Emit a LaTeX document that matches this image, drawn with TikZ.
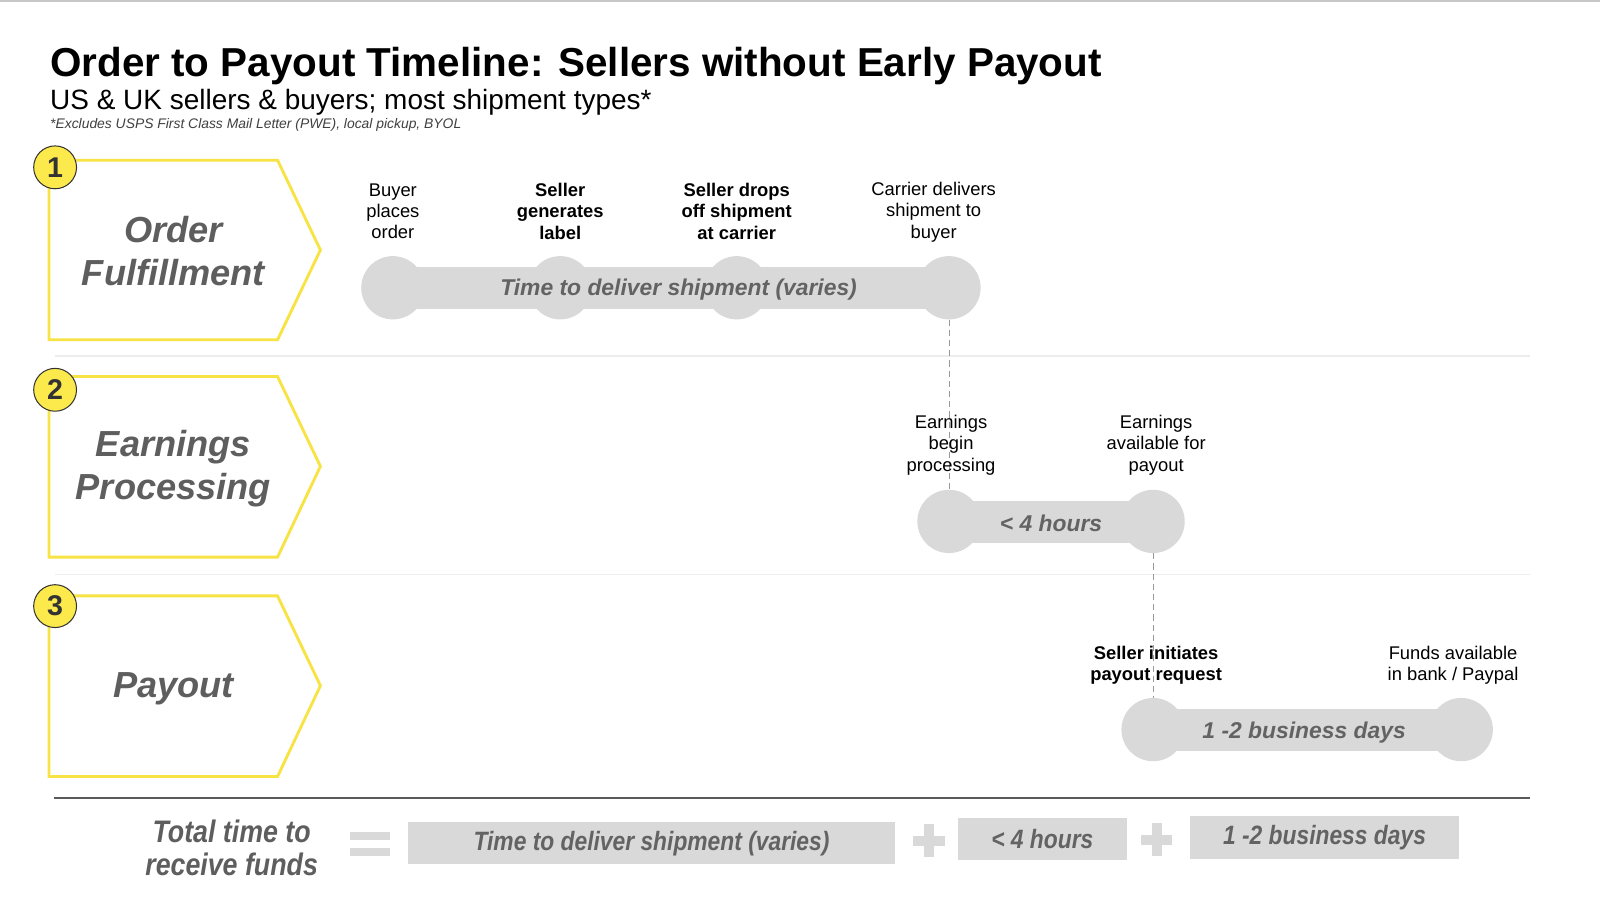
\documentclass[tikz,border=0pt]{standalone}
\usepackage{fontspec}
\setmainfont{Liberation Sans}
\newfontfamily\condfont[FakeStretch=0.86]{Liberation Sans}
\definecolor{ylw}{HTML}{F7E344}
\definecolor{badge}{HTML}{FCE94C}
\definecolor{pill}{HTML}{D9D9D9}
\definecolor{pilltxt}{HTML}{636363}
\definecolor{sect}{HTML}{5E5E5E}
\definecolor{sep}{HTML}{EDEDED}
\begin{document}
\begin{tikzpicture}[x=1pt,y=-1pt,
  pent/.style={draw=ylw,line width=2.8pt,line join=miter},
  badgec/.style={circle,draw=black!80,line width=1pt,fill=badge,minimum size=42pt,inner sep=0pt,text=black!80,font=\fontsize{28}{28}\selectfont\bfseries},
  secttxt/.style={align=center,text=sect,font=\fontsize{35.5}{42}\selectfont\bfseries\itshape},
  dot/.style={circle,fill=pill,minimum size=62pt,inner sep=0pt},
  bar/.style={fill=pill},
  pilllbl/.style={text=pilltxt,font=\fontsize{22.4}{24}\selectfont\bfseries\itshape},
  evt/.style={align=center,font=\fontsize{18}{21}\selectfont},
  evtb/.style={align=center,font=\fontsize{18}{21}\selectfont\bfseries},
  conn/.style={draw=gray!80,line width=0.9pt,dash pattern=on 6pt off 4pt},
  sumbox/.style={fill=pill,inner sep=0pt,text=pilltxt,font=\condfont\fontsize{26}{28}\selectfont\bfseries\itshape},
  opbar/.style={fill=pill}
]
\useasboundingbox (0,0) rectangle (1568,880);
\fill[white] (0,0) rectangle (1568,880);
\draw[line width=2pt,draw=black!22] (0,1) -- (1568,1);

% title
\node[anchor=base west,inner sep=0pt,font=\fontsize{39.6}{42}\selectfont\bfseries] (title) at (49,75) {Order to Payout Timeline: Sellers without Early Payout};
\node[anchor=base west,inner sep=0pt,font=\fontsize{27.4}{30}\selectfont] (subtitle) at (49,107) {US \& UK sellers \& buyers; most shipment types*};
\node[anchor=base west,inner sep=0pt,font=\fontsize{13.6}{15}\selectfont\itshape,text=black!75] (foot) at (49,126) {*Excludes USPS First Class Mail Letter (PWE), local pickup, BYOL};

% separators
\draw[sep,line width=1.4pt] (54,349) -- (1499,349);
\draw[sep,line width=1.4pt] (54,563) -- (1499,563);
\draw[black!65,line width=1.6pt] (53,782) -- (1499,782);

% pentagons
\draw[pent] (48,157) -- (272,157) -- (314,245) -- (272,333) -- (48,333) -- cycle;
\draw[pent] (48,369) -- (272,369) -- (314,457) -- (272,546) -- (48,546) -- cycle;
\draw[pent] (48,584) -- (272,584) -- (314,672) -- (272,761) -- (48,761) -- cycle;
\node[secttxt] (s1) at (170,246) {Order\\Fulfillment};
\node[secttxt] (s2) at (170,459) {Earnings\\Processing};
\node[secttxt] (s3) at (170,675) {Payout};
\node[badgec] (b1) at (54,164) {1};
\node[badgec] (b2) at (54,382) {2};
\node[badgec] (b3) at (54,594) {3};

% timeline 1
\fill[bar] (385,262) rectangle (930,303);
\node[dot] (t1a) at (385,282) {};
\node[dot] (t1b) at (549,282) {};
\node[dot] (t1c) at (722,282) {};
\node[dot] (t1d) at (930,282) {};
\node[pilllbl] (l1) at (665,284) {Time to deliver shipment (varies)};

% timeline 2
\fill[bar] (930,491) rectangle (1130,532);
\node[dot] (t2a) at (930,511) {};
\node[dot] (t2b) at (1130,511) {};
\node[pilllbl] (l2) at (1030,513) {< 4 hours};

% timeline 3
\fill[bar] (1130,695) rectangle (1432,736);
\node[dot] (t3a) at (1130,715) {};
\node[dot] (t3b) at (1432,715) {};
\node[pilllbl] (l3) at (1278,718) {1 -2 business days};

% dashed connectors
\draw[conn] (t1d.south) -- (t2a.north);
\draw[conn] (t2b.south) -- (t3a.north);

% event labels
\node[evt] (e1a) at (385,207) {Buyer\\places\\order};
\node[evtb] (e1b) at (549,207) {Seller\\generates\\label};
\node[evtb] (e1c) at (722,207) {Seller drops\\off shipment\\at carrier};
\node[evt] (e1d) at (915,208) {Carrier delivers\\shipment to\\buyer};
\node[evt] (e2a) at (932,436) {Earnings\\begin\\processing};
\node[evt] (e2b) at (1133,436) {Earnings\\available for\\payout};
\node[evtb] (e3a) at (1133,652) {Seller initiates\\payout request};
\node[evt] (e3b) at (1424,652) {Funds available\\in bank / Paypal};

% total
\node[align=center,text=sect,font=\condfont\fontsize{30.5}{32}\selectfont\bfseries\itshape] (tot) at (227,831) {Total time to\\receive funds};
\fill[opbar] (343,815) rectangle (382,823);
\fill[opbar] (343,831) rectangle (382,839);
\node[sumbox,minimum width=477pt,minimum height=41pt] (sb1) at (638.5,826.5) {Time to deliver shipment (varies)};
\fill[opbar] (895,819) rectangle (926,829);
\fill[opbar] (905.5,808) rectangle (915.5,840);
\node[sumbox,minimum width=165pt,minimum height=41pt] (sb2) at (1021.5,822.5) {< 4 hours};
\fill[opbar] (1118,818) rectangle (1149,828);
\fill[opbar] (1128.5,807) rectangle (1138.5,839);
\node[sumbox,minimum width=264pt,minimum height=42pt] (sb3) at (1298,821) {1 -2 business days};
\end{tikzpicture}
\end{document}
